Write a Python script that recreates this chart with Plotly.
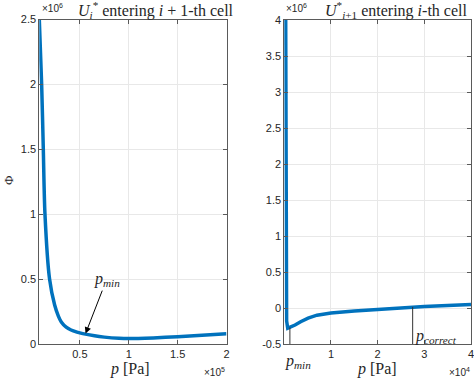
import plotly.graph_objects as go

# ---- data ----
p_left = [8500, 10900, 12600, 14300, 19000, 24200, 28000, 31000, 36000, 41000, 47000, 53000,
          65000, 75000, 90000, 100000, 125000, 150000, 175000, 200000]
phi_left = [2.5e6, 2.0e6, 1.5e6, 1.0e6, 0.5e6, 0.30e6, 0.215e6, 0.17e6, 0.13e6, 0.108e6,
            0.092e6, 0.080e6, 0.063e6, 0.053e6, 0.044e6, 0.042e6, 0.047e6, 0.056e6, 0.067e6,
            0.079e6]

p_right = [300, 320, 340, 360, 500, 730, 1500, 2300, 3500, 5100, 7000, 8700, 10000, 15000,
           20000, 25000, 27500, 30000, 35000, 40000]
phi_right = [4.0e6, 2.7e6, 1.3e6, 0.0, -0.18e6, -0.28e6, -0.26e6, -0.236e6, -0.19e6, -0.14e6,
             -0.10e6, -0.077e6, -0.068e6, -0.042e6, -0.018e6, 0.002e6, 0.012e6, 0.02e6,
             0.036e6, 0.05e6]

p_min_right = 1200
phi_min_right = -0.27e6
p_correct = 27500
phi_correct = 0.016e6

left_xticks = [50000, 100000, 150000, 200000]
left_xticktext = ["0.5", "1", "1.5", "2"]
left_yticks = [0, 0.5e6, 1e6, 1.5e6, 2e6, 2.5e6]
left_yticktext = ["0", "0.5", "1", "1.5", "2", "2.5"]
right_xticks = [10000, 20000, 30000, 40000]
right_xticktext = ["1", "2", "3", "4"]
right_yticks = [-0.5e6, 0, 0.5e6, 1e6, 1.5e6, 2e6, 2.5e6, 3e6, 3.5e6, 4e6]
right_yticktext = ["-0.5", "0", "0.5", "1", "1.5", "2", "2.5", "3", "3.5", "4"]

W, H = 474, 381
def px(x):
    return x / W
def py(y):
    return 1 - y / H

BLUE = "#0072BD"
AX = "#5a5a5a"
TXT = "#262626"
GRID = "#e8e8e8"
tickfont = dict(family="Liberation Sans, Arial", size=11, color=TXT)
serif = "Liberation Serif, Times New Roman, serif"

fig = go.Figure()
fig.add_trace(go.Scatter(x=p_left, y=phi_left, mode="lines", line=dict(color=BLUE, width=3.5, shape="spline", smoothing=0.8),
                         xaxis="x", yaxis="y", showlegend=False))
fig.add_trace(go.Scatter(x=p_right, y=phi_right, mode="lines", line=dict(color=BLUE, width=3.5),
                         xaxis="x2", yaxis="y2", showlegend=False))
fig.add_trace(go.Scatter(x=[p_min_right, p_min_right], y=[phi_min_right, -0.5e6], mode="lines",
                         line=dict(color="#333333", width=1), xaxis="x2", yaxis="y2", showlegend=False))
fig.add_trace(go.Scatter(x=[p_correct, p_correct], y=[phi_correct, -0.5e6], mode="lines",
                         line=dict(color="#333333", width=1), xaxis="x2", yaxis="y2", showlegend=False))

common = dict(showline=True, linecolor=AX, linewidth=1, mirror="allticks", ticks="inside",
              ticklen=4, tickcolor=AX, showgrid=True, gridcolor=GRID, gridwidth=1,
              zeroline=False, tickfont=tickfont, automargin=False, ticklabeloverflow="allow")

fig.update_layout(
    width=W, height=H, autosize=False,
    margin=dict(l=0, r=0, t=0, b=0, pad=0),
    paper_bgcolor="white", plot_bgcolor="white",
    hovermode=False,
    xaxis=dict(domain=[px(39.3), px(226.5)], range=[8500, 200000], tickvals=left_xticks,
               ticktext=left_xticktext, anchor="y", **common),
    yaxis=dict(domain=[py(344), py(19.5)], range=[0, 2.5e6], tickvals=left_yticks,
               ticktext=left_yticktext, anchor="x", **common),
    xaxis2=dict(domain=[px(284.3), px(471)], range=[0, 40000], tickvals=right_xticks,
                ticktext=right_xticktext, anchor="y2", **common),
    yaxis2=dict(domain=[py(344), py(20)], range=[-0.5e6, 4e6], tickvals=right_yticks,
                ticktext=right_yticktext, anchor="x2", **common),
)

ann = []
def text(x, y, t, size=11, family="Liberation Sans, Arial", xanchor="center", yanchor="middle", angle=0, color=TXT):
    ann.append(dict(x=px(x), y=py(y), xref="paper", yref="paper", text=t, showarrow=False,
                    font=dict(family=family, size=size, color=color), xanchor=xanchor,
                    yanchor=yanchor, textangle=angle))

# titles
text(156, 10, "<i>U</i><sub><i>i</i></sub><sup>*</sup> entering <i>i</i> + 1-th cell", size=16, family=serif)
text(396, 10, "<i>U</i><sup>*</sup><sub><i>i</i>+1</sub> entering <i>i</i>-th cell", size=16, family=serif)
# exponents
text(40, 8, "×10<sup>6</sup>", size=10, xanchor="left")
text(284, 8, "×10<sup>6</sup>", size=10, xanchor="left")
text(227, 372, "×10<sup>5</sup>", size=10, xanchor="right")
text(472, 372, "×10<sup>4</sup>", size=10, xanchor="right")
# axis labels
text(130, 369, "<i>p</i> [Pa]", size=16, family=serif)
text(377, 369, "<i>p</i> [Pa]", size=16, family=serif)
text(8, 180, "Φ", size=13, family=serif, angle=-90)
# p labels on right
text(298, 361, "<i>p</i><sub><i>min</i></sub>", size=16, family=serif)
text(436, 336, "<i>p</i><sub><i>correct</i></sub>", size=16, family=serif)

# arrow with p_min on left panel
ann.append(dict(x=55800, y=0.08e6, xref="x", yref="y", text="<i>p</i><sub><i>min</i></sub>",
                showarrow=True, ax=21, ay=-54, arrowhead=2, arrowsize=1.3, arrowwidth=1,
                arrowcolor="black", font=dict(family=serif, size=16, color=TXT)))

fig.update_layout(annotations=ann)
fig.write_html("out.html", config={"displayModeBar": False, "staticPlot": True},
               post_script="document.body.style.margin='0';document.body.style.padding='0';document.body.style.overflow='hidden';")
